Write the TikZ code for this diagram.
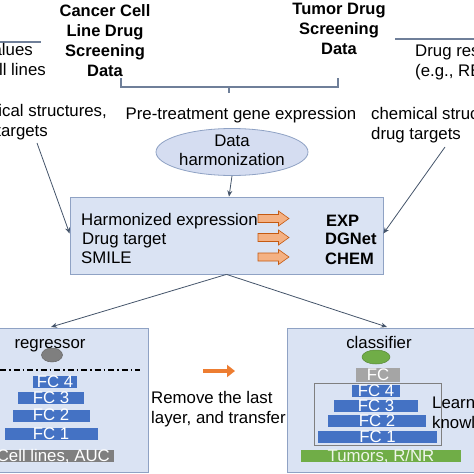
\documentclass[tikz,border=0pt]{standalone}
\usepackage{fontspec}
\setmainfont{Liberation Sans}
\usetikzlibrary{shapes.geometric,arrows.meta}
\definecolor{boxfill}{HTML}{DAE3F3}
\definecolor{boxdraw}{HTML}{8FA2C4}
\definecolor{ellfill}{HTML}{D5DDF1}
\definecolor{conncol}{HTML}{44546A}
\definecolor{fcblue}{HTML}{4472C4}
\definecolor{greyfill}{HTML}{7F7F7F}
\definecolor{fcgrey}{HTML}{A5A5A5}
\definecolor{grn}{HTML}{70AD47}
\definecolor{orgfill}{HTML}{F4B183}
\definecolor{orgdraw}{HTML}{C55A11}
\definecolor{org}{HTML}{ED7D31}
\definecolor{brk}{HTML}{6F7F99}
\begin{document}
\begin{tikzpicture}[x=1pt,y=-1pt,
  font=\fontsize{16.8}{20}\selectfont,
  txt/.style={inner sep=0pt},
  ttl/.style={inner sep=0pt, font=\fontsize{16.5}{20}\selectfont\bfseries},
  panel/.style={draw=boxdraw, fill=boxfill, line width=0.8pt, inner sep=0pt},
  conn/.style={draw=conncol, line width=0.8pt, -{Stealth[length=6pt,width=5pt]}},
  brkline/.style={draw=brk, line width=1.1pt},
  fc/.style={fill=fcblue, text=white, inner sep=0pt, text height=11pt, text depth=1pt},
  blkarrow/.pic={\draw[draw=orgdraw, fill=orgfill, line width=0.6pt]
    (-15.5,-4) -- (5,-4) -- (5,-7.5) -- (15.5,0) -- (5,7.5) -- (5,4) -- (-15.5,4) -- cycle;},
  bigarrow/.style={draw=org, line width=4.5pt, -{Triangle[length=8pt,width=12pt]}}
]
\useasboundingbox (0,0) rectangle (474,474);
\clip (0,0) rectangle (474,474);

% top titles
\node[ttl, anchor=mid] (c1) at (105,14) {Cancer Cell};
\node[ttl, anchor=mid] (c2) at (105,34) {Line Drug};
\node[ttl, anchor=mid] (c3) at (105,54) {Screening};
\node[ttl, anchor=mid] (c4) at (105,74) {Data};
\node[ttl, anchor=mid] (t1) at (339,12) {Tumor Drug};
\node[ttl, anchor=mid] (t2) at (339,32) {Screening};
\node[ttl, anchor=mid] (t3) at (339,52) {Data};

% side texts
\draw[brkline] (-5,42) -- (41,42);
\node[txt, anchor=mid east] (lv1) at (33,53) {values};
\node[txt, anchor=mid east] (lv2) at (46,73) {cell lines};
\draw[brkline] (395,39) -- (480,39);
\node[txt, anchor=mid west] (rv1) at (415,54) {Drug response};
\node[txt, anchor=mid west] (rv2) at (415,74) {(e.g., RECIST)};

\node[txt, anchor=mid east] (lc1) at (107,114) {chemical structures,};
\node[txt, anchor=mid east] (lc2) at (48,134) {drug targets};
\node[txt, anchor=mid west] (rc1) at (371,117) {chemical structures,};
\node[txt, anchor=mid west] (rc2) at (371,137) {drug targets};

% bracket
\coordinate (bl) at (121,78);
\coordinate (br) at (338,78);
\coordinate (bm) at (229,87);
\draw[brkline] (bl) -- (121,87) -- (338,87) -- (br);
\draw[brkline] (bm) -- (229,93);

\node[txt, anchor=mid] (pre) at (241,117) {Pre-treatment gene expression};

% harmonization ellipse
\node[ellipse, draw=boxdraw, fill=ellfill, line width=0.8pt, minimum width=152pt, minimum height=47pt, inner sep=0pt] (harm) at (232,152) {};
\node[txt, anchor=mid] (h1) at (232,144) {Data};
\node[txt, anchor=mid] (h2) at (232,163) {harmonization};

% feature box
\node[panel, minimum width=313pt, minimum height=77pt] (feat) at (226.5,235.5) {};
\node[txt, anchor=mid west] (f1) at (81,223) {Harmonized expression};
\node[txt, anchor=mid west] (f2) at (82,242) {Drug target};
\node[txt, anchor=mid west] (f3) at (81,261) {SMILE};
\pic (a1) at (273.5,218.5) {blkarrow};
\pic (a2) at (273.5,237.5) {blkarrow};
\pic (a3) at (273.5,257) {blkarrow};
\node[txt, anchor=mid west, font=\fontsize{16.5}{20}\selectfont\bfseries] (e1) at (326,224) {EXP};
\node[txt, anchor=mid west, font=\fontsize{16.5}{20}\selectfont\bfseries] (e2) at (325,242) {DGNet};
\node[txt, anchor=mid west, font=\fontsize{16.5}{20}\selectfont\bfseries] (e3) at (325,262) {CHEM};

% connectors to feature box
\coordinate (ls) at (37,143);
\coordinate (rs) at (445,147);
\draw[conn] (ls) -- ([yshift=2pt]feat.west);
\draw[conn] (rs) -- ([yshift=2pt]feat.east);
\draw[conn] (harm.south) -- ([xshift=2.5pt]feat.north);

% lower panels
\node[panel, minimum width=153pt, minimum height=144pt] (reg) at (71.5,400) {};
\node[panel, minimum width=193pt, minimum height=144pt] (cls) at (383.5,400) {};
\coordinate (rt) at (51,327);
\coordinate (ct) at (387,327);
\draw[conn] (feat.south) -- (rt);
\draw[conn] (feat.south) -- (ct);

% regressor panel
\node[txt, anchor=mid] (regt) at (50,346) {regressor};
\node[ellipse, fill=greyfill, draw=greyfill!80!black, line width=0.5pt, minimum width=21pt, minimum height=14pt, inner sep=0pt] (rege) at (52,355) {};
\coordinate (dl) at (0,370);
\coordinate (dr) at (140,370);
\draw[line width=1.2pt, dash pattern=on 6pt off 3pt on 1.5pt off 3pt] (dl) -- (dr);
\node[fc, minimum width=44pt] (r4) at (55,382) {FC 4};
\node[fc, minimum width=66pt] (r3) at (51,398) {FC 3};
\node[fc, minimum width=77pt] (r2) at (51,415.5) {FC 2};
\node[fc, minimum width=93pt] (r1) at (51,434) {FC 1};
\node[fill=greyfill, text=white, inner xsep=4pt, inner ysep=0pt, text height=11pt, text depth=1pt, anchor=east] (cell) at (114,456) {Cell lines, AUC};

% middle arrow and text
\coordinate (ma) at (203,371);
\coordinate (mb) at (235,371);
\draw[bigarrow] (ma) -- (mb);
\node[txt, anchor=mid west] (m1) at (151,401) {Remove the last};
\node[txt, anchor=mid west] (m2) at (151,421) {layer, and transfer};

% classifier panel
\node[txt, anchor=mid] (clst) at (379,346) {classifier};
\node[ellipse, fill=grn, draw=grn!80!black, line width=0.5pt, minimum width=28pt, minimum height=14pt, inner sep=0pt] (clse) at (376,357) {};
\node[fill=fcgrey, text=white, inner sep=0pt, text height=12pt, text depth=2pt, minimum width=44pt] (cfc) at (378,375) {FC};
\node[draw=greyfill, line width=0.7pt, minimum width=127pt, minimum height=62pt, inner sep=0pt] (frame) at (377.5,414) {};
\node[fc, minimum width=48pt] (c4f) at (376,391) {FC 4};
\node[fc, minimum width=84pt] (c3f) at (376,406) {FC 3};
\node[fc, minimum width=98pt] (c2f) at (377,421) {FC 2};
\node[fc, minimum width=119pt] (c1f) at (377.5,437) {FC 1};
\node[fill=grn, text=white!88!grn, inner sep=0pt, text height=11pt, text depth=1pt, minimum width=160pt] (tum) at (381,456) {Tumors, R/NR};
\node[txt, anchor=mid west] (l1) at (432,406) {Learned};
\node[txt, anchor=mid west] (l2) at (432,426) {knowledge};
\end{tikzpicture}
\end{document}
